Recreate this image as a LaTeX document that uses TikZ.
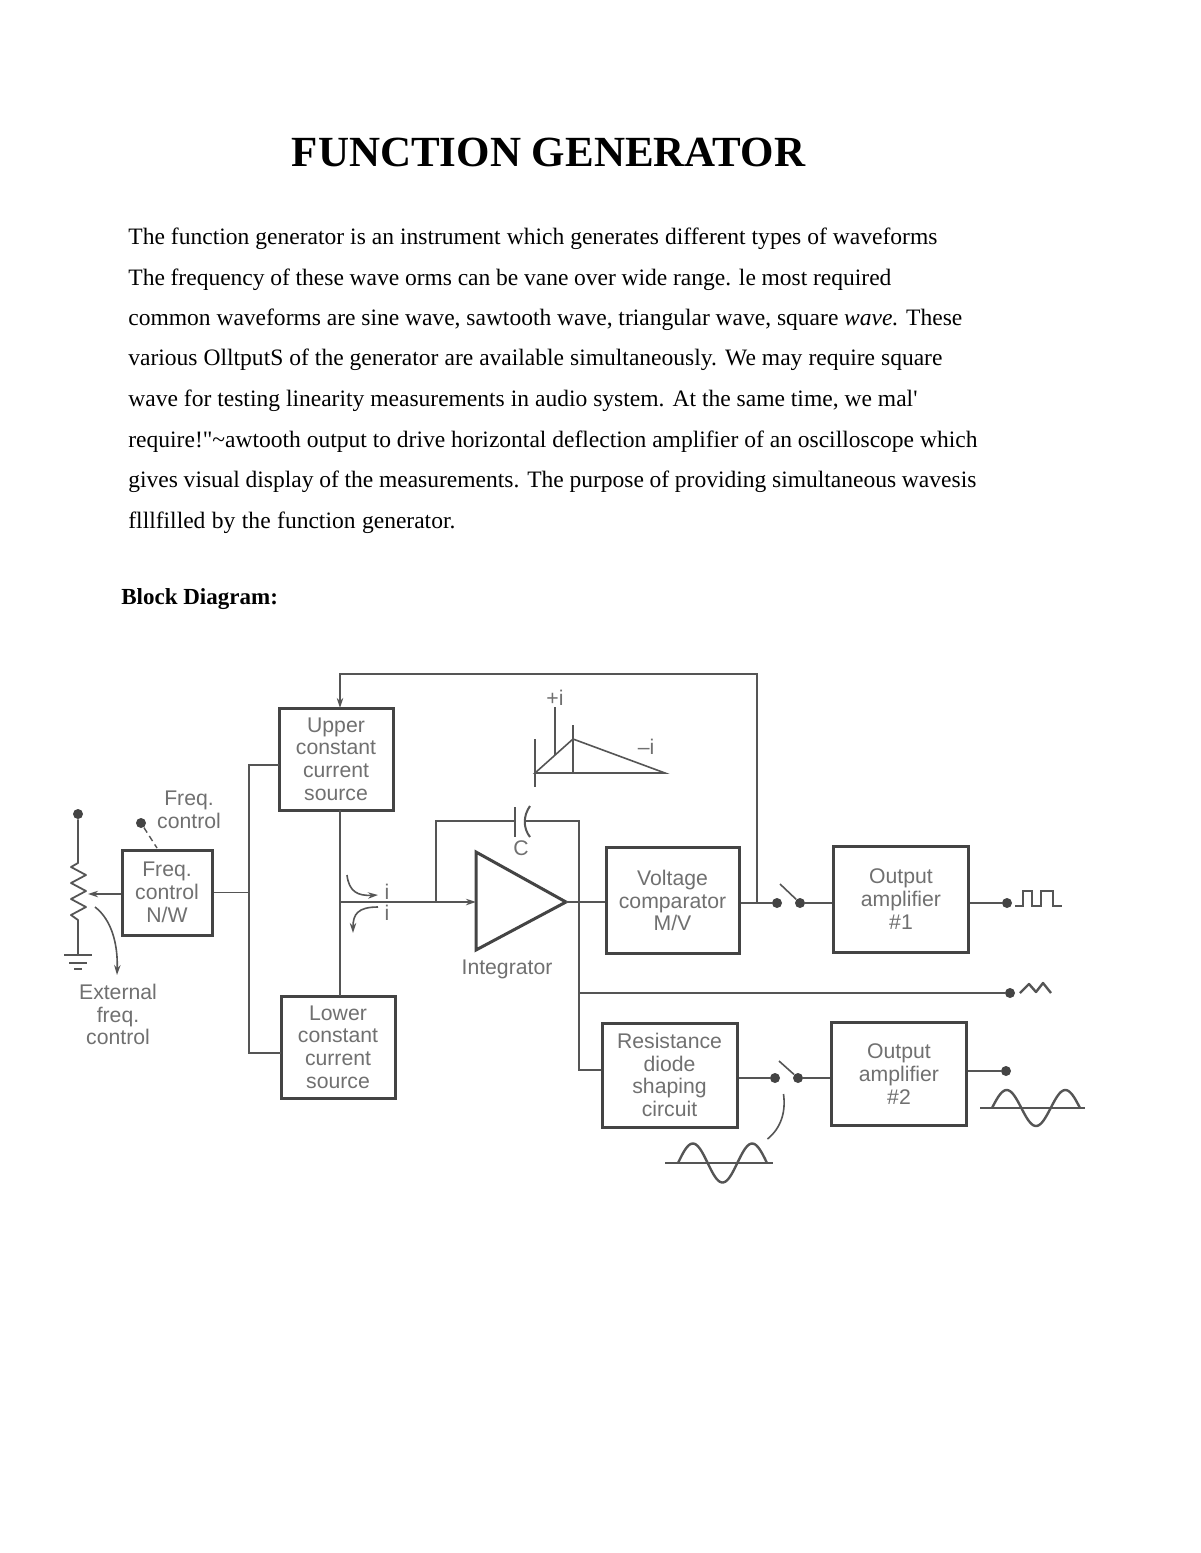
\documentclass[tikz,border=0pt]{standalone}
\usepackage{fontspec}
\setmainfont{Liberation Serif}
\newfontfamily\diagfont{Liberation Sans}
\usetikzlibrary{arrows.meta}
\definecolor{ink}{HTML}{555555}
\definecolor{boxink}{HTML}{444444}
\definecolor{lbl}{HTML}{707070}
\tikzset{
  x=0.5pt,y=-0.5pt,
  wire/.style={draw=ink,line width=0.8pt},
  arrowed/.style={wire,-{Stealth[length=5pt,width=3.2pt]}},
  blk/.style={draw=boxink,line width=1.5pt,inner sep=0pt,align=center,text=lbl,
    font=\diagfont\fontsize{10.6}{11.4}\selectfont},
  lab/.style={inner sep=0pt,align=center,text=lbl,font=\diagfont\fontsize{10.6}{11.4}\selectfont},
  body/.style={anchor=base west,inner sep=0pt,font=\fontsize{11.76}{14}\selectfont},
  dotpt/.style={circle,fill=boxink,draw=none,inner sep=0pt,minimum size=5pt},
}
\newcommand{\lineto}[2]{\makebox[#1pt][s]{#2}}
\begin{document}
\begin{tikzpicture}
\useasboundingbox[fill=white] (0,0) rectangle (1200,1553);
% --- page text
\node[anchor=base,inner sep=0pt,font=\bfseries\fontsize{21.5}{24}\selectfont] (title) at (548.5,166) {FUNCTION GENERATOR};
\node[body] (l1) at (128,244) {\lineto{404.5}{The function generator is an instrument which generates different types of waveforms}};
\node[body] (l2) at (128,285) {\lineto{381.5}{The frequency of these wave orms can be vane over wide range. le most required}};
\node[body] (l3) at (128,325) {\lineto{417}{common waveforms are sine wave, sawtooth wave, triangular wave, square \textit{wave.} These}};
\node[body] (l4) at (128,365) {\lineto{407}{various OlltputS of the generator are available simultaneously. We may require square}};
\node[body] (l5) at (128,406) {\lineto{394.5}{wave for testing linearity measurements in audio system. At the same time, we mal\textquotesingle}};
\node[body] (l6) at (128,447) {\lineto{424.5}{require!\textquotedbl\textasciitilde awtooth output to drive horizontal deflection amplifier of an oscilloscope which}};
\node[body] (l7) at (128,487) {\lineto{424}{gives visual display of the measurements. The purpose of providing simultaneous wavesis}};
\node[body] (l8) at (128,528) {\lineto{163.5}{flllfilled by the function generator.}};
\node[body,font=\bfseries\fontsize{11.5}{14}\selectfont] (bd) at (121,604) {Block Diagram:};
% --- blocks
\node[blk,minimum width=57pt,minimum height=51pt] (upper) at (336,759) {Upper\\constant\\current\\source};
\node[blk,minimum width=57pt,minimum height=51pt] (lower) at (338,1047) {Lower\\constant\\current\\source};
\node[blk,minimum width=45pt,minimum height=42.5pt] (freq) at (167,892.5) {Freq.\\control\\N/W};
\node[blk,minimum width=66.5pt,minimum height=53pt] (comp) at (672.5,900.5) {Voltage\\comparator\\M/V};
\node[blk,minimum width=67.5pt,minimum height=53pt] (amp1) at (901,899) {Output\\amplifier\\\#1};
\node[blk,minimum width=67.5pt,minimum height=52pt] (shape) at (669.5,1075) {Resistance\\diode\\shaping\\circuit};
\node[blk,minimum width=67.5pt,minimum height=51.5pt] (amp2) at (899,1074) {Output\\amplifier\\\#2};
% --- integrator
\coordinate (tria) at (476,852);
\coordinate (trib) at (476,950);
\coordinate (tip) at (566,902);
\draw[draw=boxink,line width=1.5pt,line join=miter] (tria) -- (trib) -- (tip) -- cycle;
% --- labels
\node[lab] (fqtop) at (189,810) {Freq.\\control};
\node[lab] (ext) at (118,1014.5) {External\\freq.\\control};
\node[lab] (integ) at (507,969) {Integrator};
\node[lab] (capC) at (521,848) {C};
\node[lab] (pi) at (555,698) {+i};
\node[lab] (mi) at (646,747) {\textendash i};
\node[lab] (i1) at (387,892) {i};
\node[lab] (i2) at (387,913) {i};
% --- junctions
\coordinate (bus) at (249,892.5);
\coordinate (bustop) at (249,765);
\coordinate (busbot) at (249,1053);
\coordinate (upin) at (279,765);
\coordinate (lowin) at (281,1053);
\coordinate (upT) at (340,708);
\coordinate (upB) at (340,810);
\coordinate (lowT) at (340,996);
\coordinate (sum) at (340,902);
\coordinate (fbL) at (436,902);
\coordinate (fbTL) at (436,821);
\coordinate (fbTR) at (579,821);
\coordinate (capL) at (515,821);
\coordinate (capR) at (526,821);
\coordinate (triJ) at (579,993);
\coordinate (shapeBend) at (579,1070);
\coordinate (topL) at (340,674);
\coordinate (topR) at (757,674);
\coordinate (topJ) at (757,903);
\node[dotpt] (s1a) at (777,903) {};
\node[dotpt] (s1b) at (800,903) {};
\node[dotpt] (out1) at (1007,903) {};
\node[dotpt] (out3) at (1010,993) {};
\node[dotpt] (s2a) at (775,1078) {};
\node[dotpt] (s2b) at (798,1078) {};
\node[dotpt] (out2) at (1006,1071) {};
\node[dotpt] (potT) at (78,814) {};
\node[dotpt] (fqdot) at (141,823) {};
\coordinate (s1lever) at (780,884);
\coordinate (s2lever) at (779,1061);
% --- connectors
\draw[wire] (freq.east) -- (bus);
\draw[wire] (upin) -- (bustop) -- (busbot) -- (lowin);
\draw[wire] (upB) -- (lowT);
\draw[arrowed] (topJ) -- (topR) -- (topL) -- (upT);
\draw[wire] (sum) -- (fbL);
\draw[arrowed] (fbL) -- (tria |- fbL);
\draw[wire] (fbL) -- (fbTL) -- (capL);
\draw[draw=ink,line width=1pt] (515,807) -- (515,837);
\draw[draw=ink,line width=1pt] (530,806) .. controls (523,816) and (523,828) .. (530,837);
\draw[wire] (capR) -- (fbTR) -- (shapeBend) -- (shapeBend -| shape.west);
\draw[wire] (tip) -- (comp.west |- tip);
\draw[wire] (triJ) -- (out3);
\draw[wire] (comp.east |- s1a) -- (s1a);
\draw[wire] (s1b) -- (amp1.west |- s1b);
\draw[wire] (s1lever) -- (s1b);
\draw[wire] (amp1.east |- out1) -- (out1);
\draw[wire] (shape.east |- s2a) -- (s2a);
\draw[wire] (s2b) -- (amp2.west |- s2b);
\draw[wire] (s2lever) -- (s2b);
\draw[wire] (amp2.east |- out2) -- (out2);
% --- potentiometer and ground
\coordinate (zzT) at (78,863);
\coordinate (zzB) at (78,920);
\coordinate (gnd) at (78,955);
\draw[draw=ink,line width=0.9pt,line join=round] (potT) -- (zzT) -- (71,867) -- (86,875) -- (71,883) -- (86,891) -- (71,899) -- (86,907) -- (71,915) -- (zzB) -- (gnd);
\draw[draw=ink,line width=0.9pt] (64,955) -- (92,955) (69,963) -- (87,963) (74,969) -- (82,969);
\coordinate (wiper) at (88,894);
\draw[arrowed] (freq.west |- wiper) -- (wiper);
\coordinate (ctlA) at (95,907);
\coordinate (ctlB) at (117,975);
\draw[arrowed] (ctlA) .. controls (112,920) and (118,945) .. (ctlB);
\coordinate (fqB) at (157,848);
\draw[draw=ink,line width=0.7pt,densely dashed] (fqdot) -- (fqB);
% --- current arrows
\draw[arrowed] (347,875) .. controls (349,892) and (358,896) .. (378,895);
\draw[arrowed] (378,907) .. controls (358,907) and (353,914) .. (353,933);
% --- current waveform
\coordinate (w0) at (535,773);
\coordinate (wp) at (573,739);
\coordinate (we) at (665,773);
\draw[wire] (w0) -- (wp) -- (we) -- cycle;
\draw[wire] (535,739) -- (535,787);
\draw[wire] (573,725) -- (573,773);
\draw[wire] (555,707) -- (555,755);
% --- output waveforms
\draw[draw=ink,line width=1.2pt] (1015,906) -- (1023,906) -- (1023,891) -- (1032,891) -- (1032,906) -- (1041,906) -- (1041,891) -- (1053,891) -- (1053,906) -- (1062,906);
\draw[draw=ink,line width=1.2pt,line join=round] (1020,993) -- (1029,984) -- (1036,992) -- (1043,983) -- (1051,993);
\draw[wire] (980,1108) -- (1085,1108);
\draw[draw=ink,line width=1.2pt] plot[smooth,domain=0:540,samples=61] ({992+0.163*\x},{1108-18*sin(\x)});
\draw[wire] (665,1163) -- (773,1163);
\draw[draw=ink,line width=1.2pt] plot[smooth,domain=0:540,samples=61] ({678+0.1648*\x},{1163-19.5*sin(\x)});
\coordinate (brA) at (783.5,1094);
\coordinate (brB) at (767.5,1139);
\draw[wire] (brA) .. controls (786,1112) and (781,1128) .. (brB);
\end{tikzpicture}
\end{document}
